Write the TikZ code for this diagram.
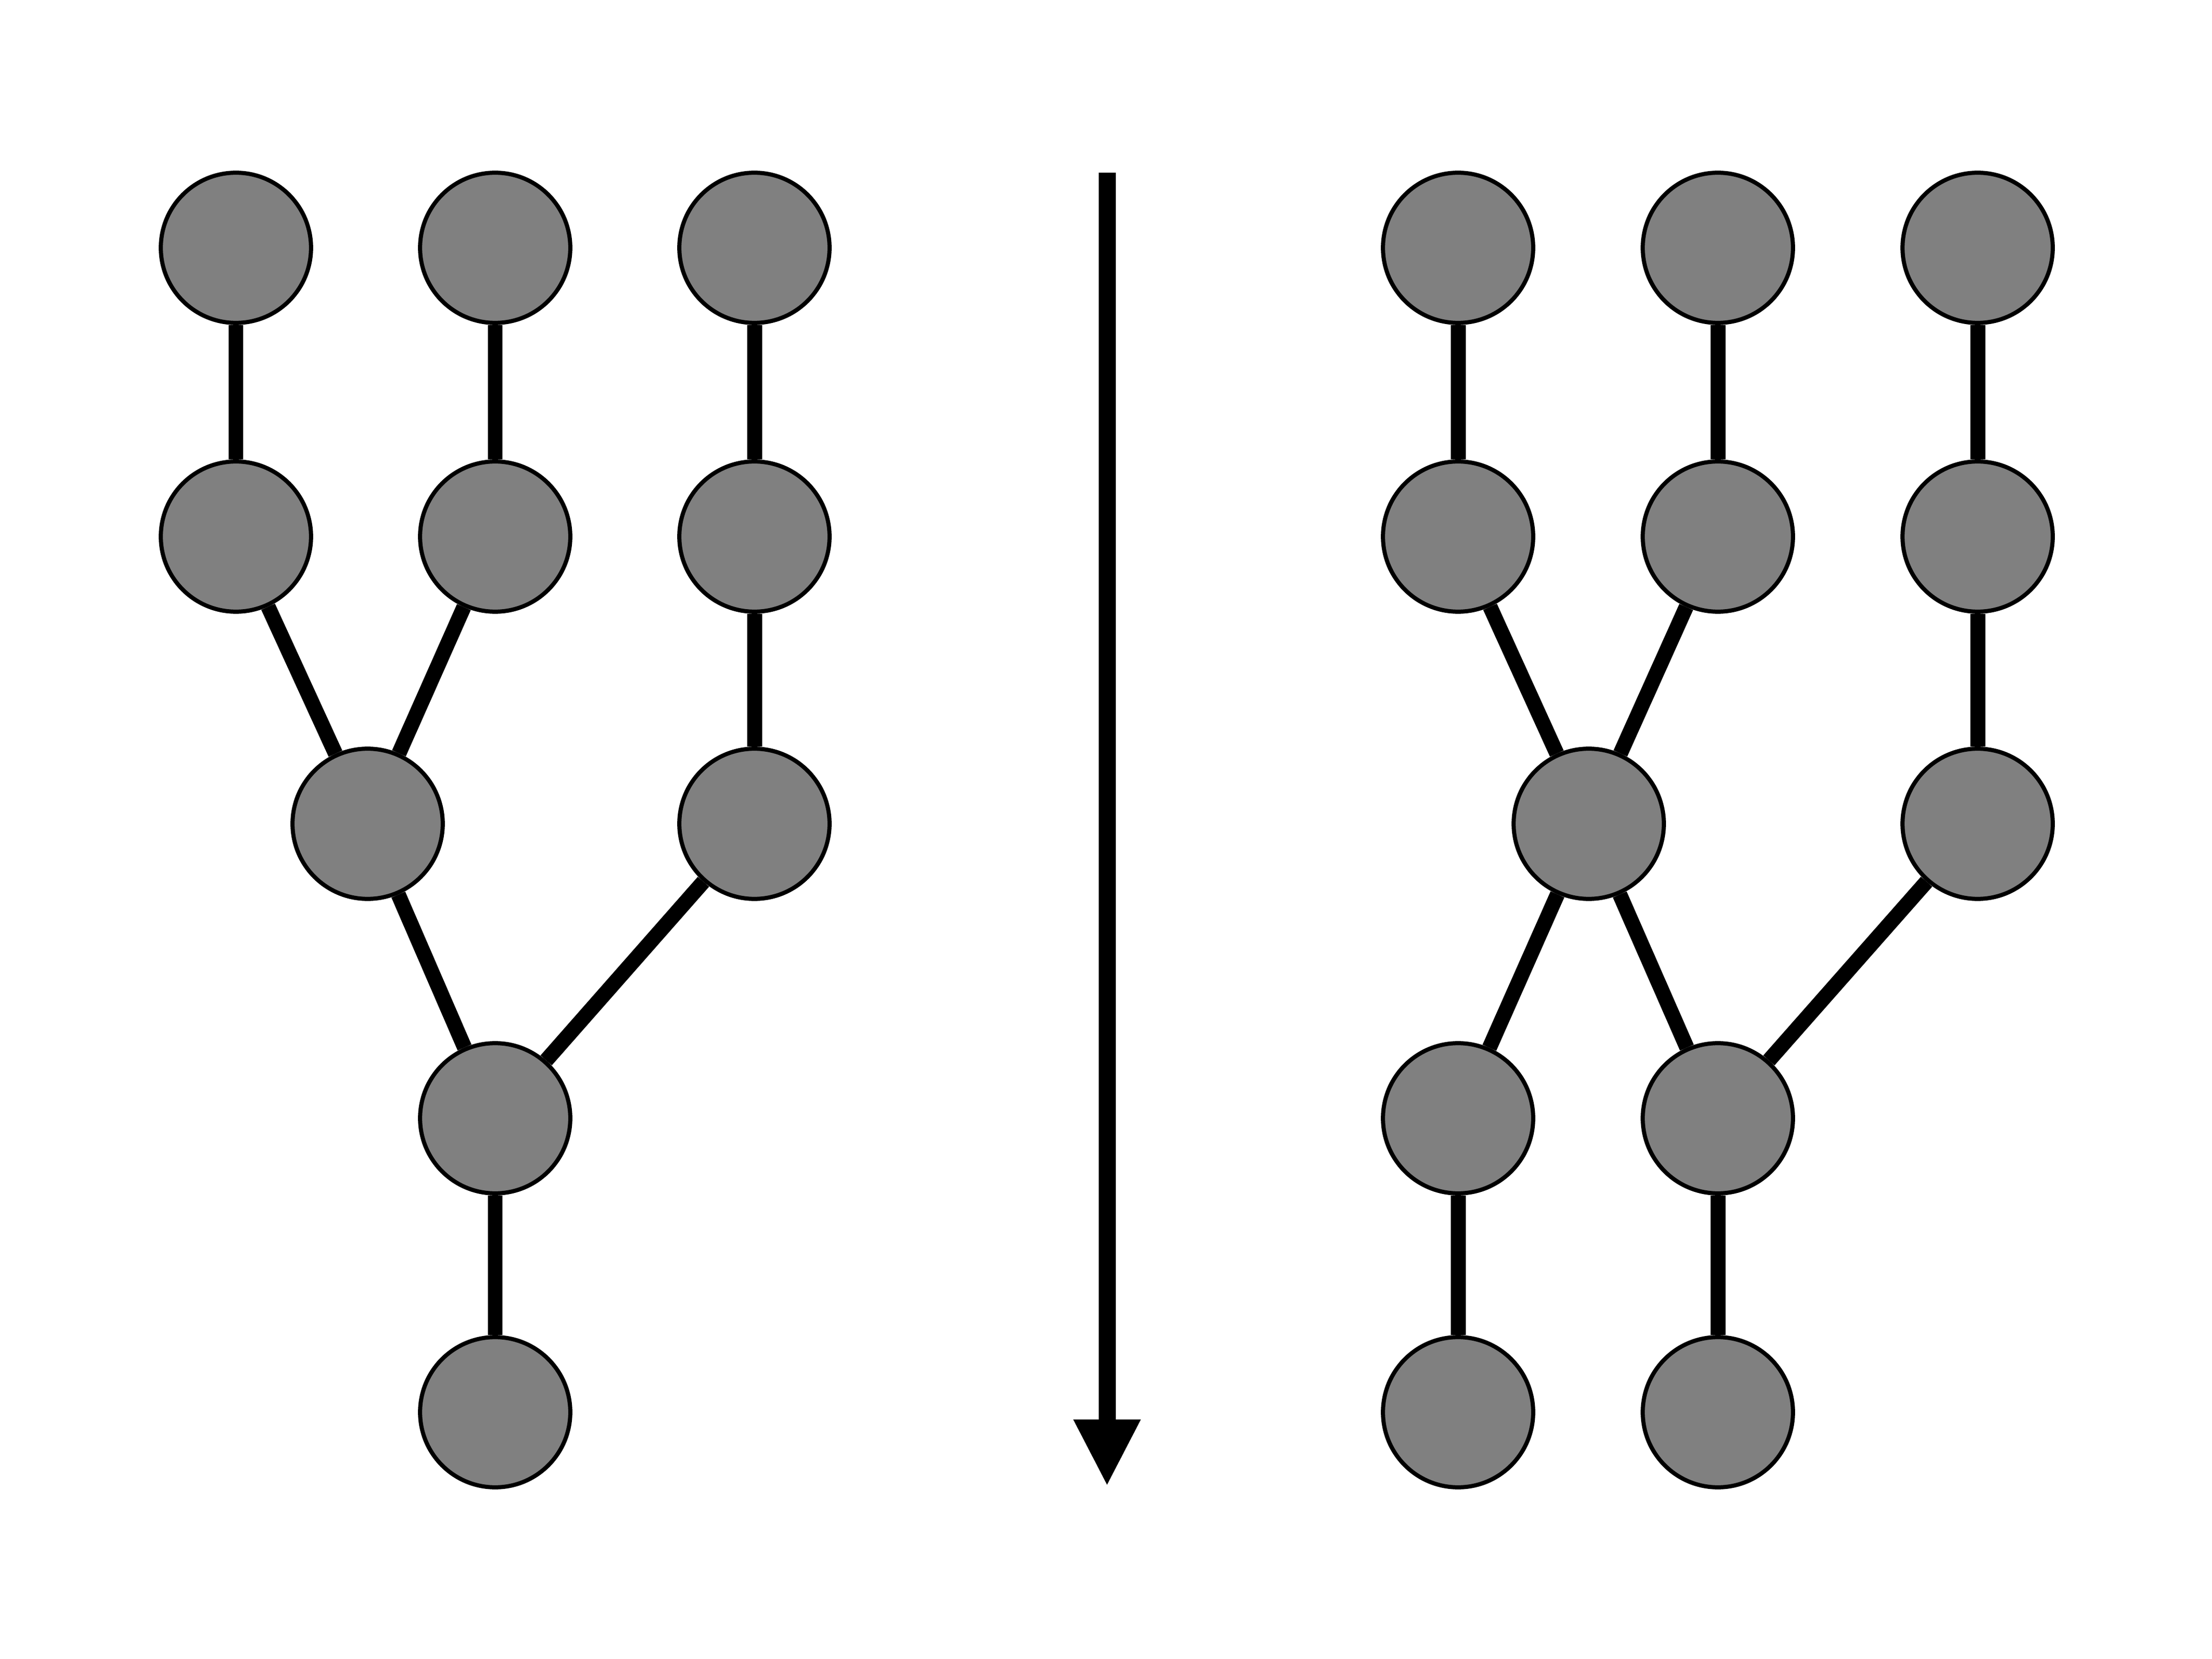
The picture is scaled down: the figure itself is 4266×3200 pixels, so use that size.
\documentclass[tikz,border=0pt]{standalone}
\usetikzlibrary{arrows.meta,backgrounds}
\begin{document}
\begin{tikzpicture}[x=0.005cm, y=-0.005cm,
  dot/.style={circle, draw=black, line width=0.04cm, fill=gray, minimum size=1.45cm, inner sep=0pt},
  link/.style={line width=0.145cm}]
\useasboundingbox (0,0) rectangle (4266,3200);

% Left tree
\node[dot] (La1) at (455,478) {};
\node[dot] (La2) at (955,478) {};
\node[dot] (La3) at (1455,478) {};
\node[dot] (Lb1) at (455,1035) {};
\node[dot] (Lb2) at (955,1035) {};
\node[dot] (Lb3) at (1455,1035) {};
\node[dot] (Lc1) at (709,1589) {};
\node[dot] (Lc2) at (1455,1589) {};
\node[dot] (Ld1) at (955,2157) {};
\node[dot] (Le1) at (955,2724) {};

% Right tree
\node[dot] (Ra1) at (2812,478) {};
\node[dot] (Ra2) at (3313,478) {};
\node[dot] (Ra3) at (3814,478) {};
\node[dot] (Rb1) at (2812,1035) {};
\node[dot] (Rb2) at (3313,1035) {};
\node[dot] (Rb3) at (3814,1035) {};
\node[dot] (Rc1) at (3064,1589) {};
\node[dot] (Rc2) at (3814,1589) {};
\node[dot] (Rd1) at (2812,2157) {};
\node[dot] (Rd2) at (3313,2157) {};
\node[dot] (Re1) at (2812,2724) {};
\node[dot] (Re2) at (3313,2724) {};

% Edges
\begin{scope}[on background layer]
\draw[link] (La1) -- (Lb1);
\draw[link] (La2) -- (Lb2);
\draw[link] (La3) -- (Lb3);
\draw[link] (Lb1) -- (Lc1);
\draw[link] (Lb2) -- (Lc1);
\draw[link] (Lb3) -- (Lc2);
\draw[link] (Lc1) -- (Ld1);
\draw[link] (Lc2) -- (Ld1);
\draw[link] (Ld1) -- (Le1);

\draw[link] (Ra1) -- (Rb1);
\draw[link] (Ra2) -- (Rb2);
\draw[link] (Ra3) -- (Rb3);
\draw[link] (Rb1) -- (Rc1);
\draw[link] (Rb2) -- (Rc1);
\draw[link] (Rb3) -- (Rc2);
\draw[link] (Rc1) -- (Rd1);
\draw[link] (Rc1) -- (Rd2);
\draw[link] (Rc2) -- (Rd2);
\draw[link] (Rd1) -- (Re1);
\draw[link] (Rd2) -- (Re2);
\end{scope}

% Arrow
\coordinate (top) at (2135,333);
\coordinate (tip) at (2135,2867);
\draw[line width=0.165cm, -{Triangle[width=0.6cm, length=0.645cm]}] (top) -- (tip);
\end{tikzpicture}
\end{document}
